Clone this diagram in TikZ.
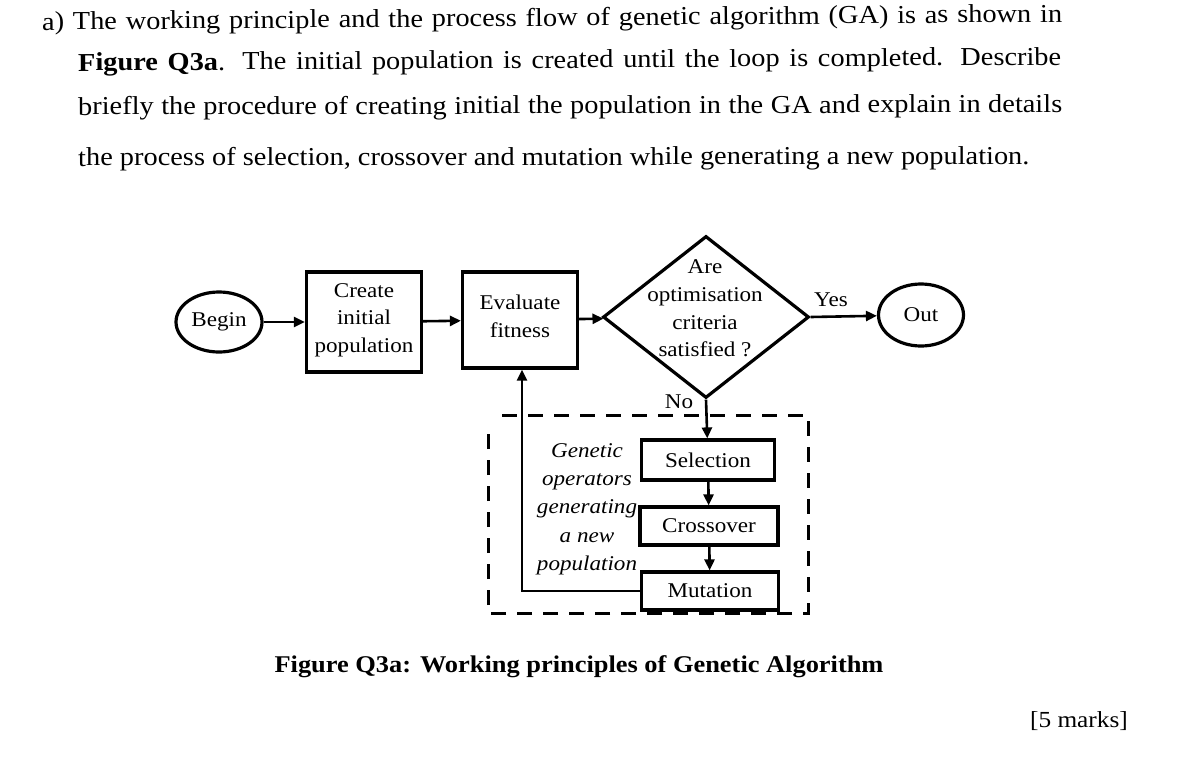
\documentclass[tikz,border=0pt]{standalone}
\usepackage{fontspec}
\setmainfont{Liberation Serif}[FakeStretch=1.1]
\usetikzlibrary{shapes.geometric,arrows.meta}
\begin{document}
\begin{tikzpicture}[x=1pt,y=-1pt,
  qtext/.style={anchor=base west,inner sep=0pt,font=\fontsize{25.8}{30}\selectfont},
  boxnode/.style={draw,line width=3.2pt,inner sep=0pt,align=center,font=\fontsize{21}{27.5}\selectfont},
  ovalnode/.style={draw,ellipse,line width=3.2pt,inner sep=0pt,font=\fontsize{21}{26}\selectfont},
  lab/.style={inner sep=0pt,font=\fontsize{21}{26}\selectfont},
  conn/.style={line width=2.6pt,-{Triangle[length=11pt,width=10pt]}},
  dashbox/.style={line width=3pt,dash pattern=on 15pt off 11pt}
]
\useasboundingbox (0,0) rectangle (1204,763);
% question text
\node[qtext,rotate=0.45] (q1) at (42,30) {\makebox[1020pt][s]{a)\ The working principle and the process flow of genetic algorithm (GA) is as shown in}};
\node[qtext,rotate=0.35] (q2) at (78,71) {\makebox[983pt][s]{\textbf{Figure Q3a}. The initial population is created until the loop is completed. Describe}};
\node[qtext,rotate=0.15] (q3) at (78,115) {\makebox[984pt][s]{briefly the procedure of creating initial the population in the GA and explain in details}};
\node[qtext,rotate=0.1] (q4) at (78,166) {the process of selection, crossover and mutation while generating a new population.};
% diagram nodes
\node[ovalnode,minimum width=86pt,minimum height=60pt] (begin) at (219,322) {Begin};
\node[boxnode,minimum width=115pt,minimum height=100pt] (create) at (364,322) {};
\node[boxnode,draw=none] (createtxt) at (364,320) {Create\\initial\\population};
\node[boxnode,minimum width=115pt,minimum height=96pt] (eval) at (520,320) {};
\node[boxnode,draw=none] (evaltxt) at (520,316.5) {Evaluate\\fitness};
\node[draw,diamond,line width=3.2pt,inner sep=0pt,minimum width=206pt,minimum height=162pt] (dec) at (706,317) {};
\node[align=center,inner sep=0pt,font=\fontsize{21}{27.7}\selectfont] (dectxt) at (705,308.5) {Are\\optimisation\\criteria\\satisfied ?};
\node[ovalnode,minimum width=85pt,minimum height=62pt] (out) at (921,315) {Out};
\node[boxnode,minimum width=133pt,minimum height=40pt] (sel) at (708,460) {Selection};
\node[boxnode,minimum width=138pt,minimum height=38pt] (cross) at (709,526) {Crossover};
\node[boxnode,minimum width=137pt,minimum height=38pt] (mut) at (710,591) {Mutation};
\node[lab] (yes) at (831,300) {Yes};
\node[lab] (no) at (679,402) {No};
\node[lab,align=center,font=\itshape\fontsize{21}{28.3}\selectfont] (gen) at (587,509) {Genetic\\operators\\generating\\a new\\population};
\coordinate (corner) at (522,591);
% connectors
\draw[conn] (begin) -- (create);
\draw[conn] (create) -- (eval);
\draw[conn] (eval) -- (dec);
\draw[conn] (dec.east) -- (out);
\draw[conn] (dec.south) -- (sel);
\draw[conn] (sel) -- (cross);
\draw[conn] (cross) -- (mut);
\draw[conn] (mut.west) -- (corner) -- (eval.south -| corner);
% dashed frame
\draw[dashbox] (502,415) -- (808,415) -- (808,613) -- (488,613) -- (488,428);
% caption
\node[inner sep=0pt,font=\bfseries\fontsize{24}{28}\selectfont] (cap) at (579,667) {Figure Q3a: Working principles of Genetic Algorithm};
\node[inner sep=0pt,font=\fontsize{23}{28}\selectfont] (marks) at (1079,721) {[5 marks]};
\end{tikzpicture}
\end{document}
